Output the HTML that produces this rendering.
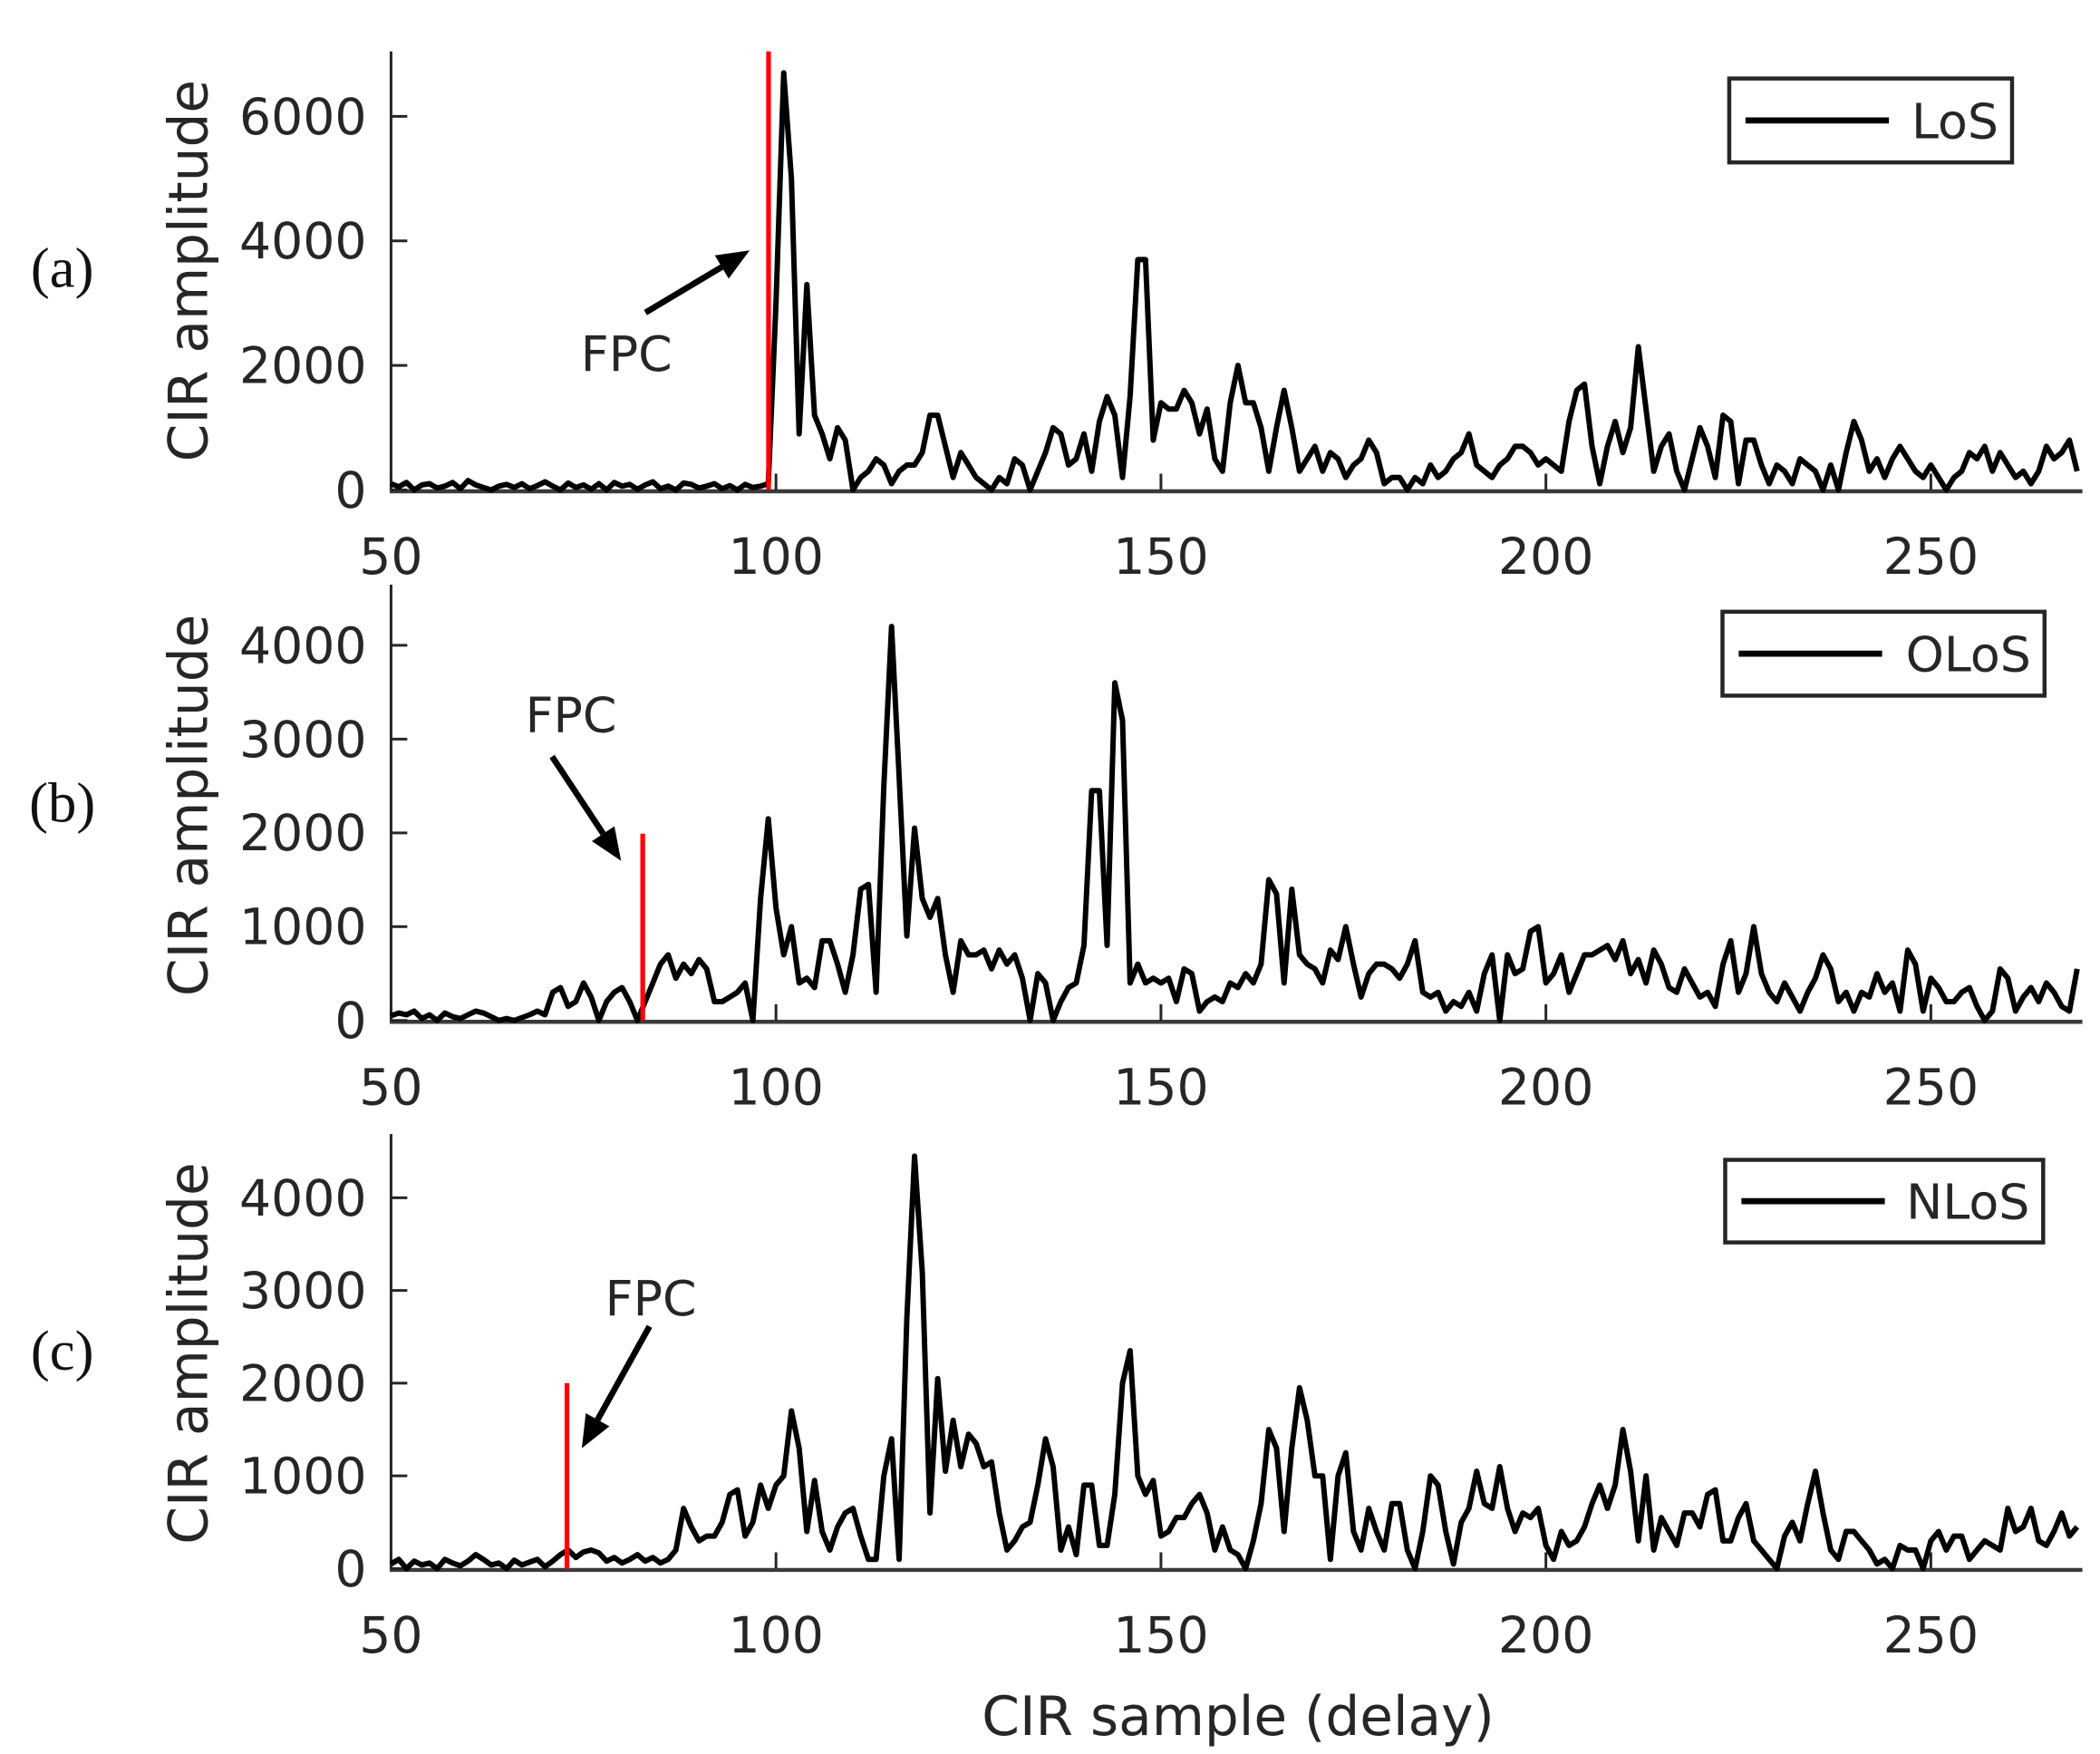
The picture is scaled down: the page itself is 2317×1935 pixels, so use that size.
<!DOCTYPE html>
<html><head><meta charset="utf-8"><style>
html,body{margin:0;padding:0;background:#fff;}
svg{display:block;}
text{font-family:"DejaVu Sans","Liberation Sans",sans-serif;fill:#262626;}
</style></head><body>
<svg id="s" width="2317" height="1935" viewBox="0 0 1552 1296" preserveAspectRatio="none" xmlns="http://www.w3.org/2000/svg">
<rect width="1552" height="1296" fill="#fff"/>
<g id="g"></g>
</svg>
<script>
var NS="http://www.w3.org/2000/svg",G=document.getElementById('g');
function el(t,a,txt){var e=document.createElementNS(NS,t);for(var k in a)e.setAttribute(k,a[k]);if(txt!==undefined)e.textContent=txt;G.appendChild(e);return e;}
function X(v){return 289+(v-50)*5.69;}
var noiseA=[100,50,120,0,80,100,30,60,120,20,150,80,40,0,60,90,40,100,20,70,130,60,0,110,40,80,10,100,0,120,60,90,10,80,130,20,60,0,110,90,30,60,100,20,70,0,90,40,60];
var A=noiseA.concat([100,3000,6700,5000,900,3300,1200,900,500,1000,800,0,200,300,500,400,100,300,400,400,600,1200,1200,700,200,600,400,200,100,0,200,100,500,400,0,300,600,1000,900,400,500,900,300,1100,1500,1200,200,1500,3700,3700,800,1400,1300,1300,1600,1400,900,1300,500,300,1400,2000,1400,1400,1000,300,1000,1600,1000,300,500,700,300,600,500,200,400,500,800,600,100,200,200,0,200,100,400,200,300,500,600,900,400,300,200,400,500,700,700,600,400,500,400,300,1100,1600,1700,700,100,700,1100,600,1000,2300,1300,300,700,900,300,0,500,1000,700,200,1200,1100,100,800,800,400,100,400,300,100,500,400,300,0,400,0,600,1100,800,300,500,200,500,700,500,300,200,400,200,0,200,300,600,500,700,300,600,400,200,300,100,300,700,500,600,800,300,600]);
var noiseB=[50,80,60,100,20,60,0,80,40,20,60,100,80,40,0,20,0,30,60,100,60];
var B=noiseB.concat([300,350,150,200,400,250,0,200,300,350,200,0,200,400,600,700,450,600,500,650,550,200,200,250,300,400,0,1300,2150,1200,700,1000,400,450,350,850,850,600,300,700,1400,1450,300,2500,4200,2600,900,2050,1300,1100,1300,700,300,850,700,700,750,550,750,600,700,450,0,500,400,0,200,350,400,800,2450,2450,800,3600,3200,400,600,400,450,400,450,200,550,500,100,200,250,200,400,350,500,400,600,1500,1350,400,1400,700,600,550,400,750,650,1000,600,250,500,600,600,550,450,600,850,300,250,300,100,200,150,300,100,500,700,0,700,500,550,950,1000,400,500,700,300,500,700,700,750,800,650,850,500,650,400,750,600,350,300,550,400,250,300,150,600,850,300,500,1000,500,300,200,400,250,100,300,450,700,550,200,300,100,300,250,500,300,400,100,750,600,100,450,350,200,200,300,350,150,0,100,550,450,100,250,350,200,400,300,150,100,550,450,150,300]);
var noiseC=[50,100,0,80,40,60,0,100,60,30,80,150,100,40,60,0,90,40,70,100,20,80,150,200,120,180,200,170,80,120,60,100,150,80,120,60,100];
var C=noiseC.concat([200,650,450,300,350,350,500,800,850,350,500,900,650,900,1000,1700,1300,400,950,400,200,450,600,650,350,100,100,1000,1400,100,2700,4450,3200,600,2050,1050,1600,1100,1450,1350,1100,1150,600,200,300,450,500,900,1400,1100,200,450,150,900,900,250,250,800,2000,2350,1000,800,950,350,400,550,550,700,800,600,200,450,200,150,0,300,700,1500,1300,400,1300,1950,1600,1000,1000,100,1000,1250,400,200,650,400,200,700,700,200,0,400,1000,900,400,50,500,650,1050,700,650,1100,650,400,600,550,650,250,100,400,250,300,450,700,900,650,900,1500,1050,300,1000,200,550,400,250,600,600,450,800,850,300,300,550,700,300,200,100,0,350,500,300,700,1050,600,200,100,400,400,300,200,50,100,0,250,200,200,0,300,400,200,350,350,100,200,300,250,200,650,400,450,650,300,250,400,600,350,450,600]);
function panel(data,y0,k,ytop,ticks,red,redTop,legend,lab,ylabY,fpc){
  el('line',{x1:289,y1:ytop,x2:289,y2:y0+1,stroke:'#262626','stroke-width':2});
  el('line',{x1:288,y1:y0+1,x2:1539,y2:y0+1,stroke:'#3a3a3a','stroke-width':3});
  ticks.forEach(function(t){var y=y0-t*k;el('line',{x1:289,y1:y,x2:301,y2:y,stroke:'#262626','stroke-width':2});
    el('text',{x:271,y:y+13,'text-anchor':'end','font-size':37},String(t));});
  [50,100,150,200,250].forEach(function(v){var x=X(v);el('line',{x1:x,y1:y0,x2:x,y2:y0-12,stroke:'#262626','stroke-width':2});
    el('text',{x:x,y:y0+62,'text-anchor':'middle','font-size':37},String(v));});
  var pts=[];for(var i=0;i<data.length;i++){var v=50+i;if(v>269.5)break;pts.push(X(v).toFixed(1)+','+(y0-data[i]*k).toFixed(1));}
  el('polyline',{points:pts.join(' '),fill:'none',stroke:'#000','stroke-width':4,'stroke-linejoin':'round'});
  el('line',{x1:red,y1:redTop,x2:red,y2:y0,stroke:'#ff0000','stroke-width':3.5});
  el('rect',{x:legend[0],y:legend[1],width:legend[2],height:legend[3],fill:'#fff',stroke:'#262626','stroke-width':3});
  var ly=legend[1]+legend[3]/2;
  el('line',{x1:legend[0]+12,y1:ly,x2:legend[0]+118,y2:ly,stroke:'#000','stroke-width':4.5});
  el('text',{x:legend[0]+legend[2]-10,y:ly+13,'text-anchor':'end','font-size':36},legend[4]);
  el('text',{x:0,y:0,'font-size':40,'text-anchor':'middle',transform:'translate(153,'+ylabY+') rotate(-90)'},'CIR amplitude');
  var t=el('text',{x:46,y:ylabY+12,'text-anchor':'middle','font-size':42},lab);t.style.fontFamily='"Liberation Serif",serif';t.style.fill='#111';
  el('text',{x:fpc[0],y:fpc[1],'text-anchor':'middle','font-size':36},'FPC');
  var x1=fpc[2],y1=fpc[3],x2=fpc[4],y2=fpc[5];
  var dx=x2-x1,dy=y2-y1,L=Math.sqrt(dx*dx+dy*dy),ux=dx/L,uy=dy/L,h=24,w=10;
  var bx=x2-ux*h,by=y2-uy*h;
  el('line',{x1:x1,y1:y1,x2:bx,y2:by,stroke:'#000','stroke-width':4.5});
  el('polygon',{points:x2+','+y2+' '+(bx-uy*w)+','+(by+ux*w)+' '+(bx+uy*w)+','+(by-ux*w),fill:'#000'});
}
panel(A,362,0.046,38,[0,2000,4000,6000],568,38,[1278,58,209,62,'LoS'],'(a)',200,[463,274,477,231,554,185]);
panel(B,754,0.0693,432,[0,1000,2000,3000,4000],475,616,[1273,452,238,62,'OLoS'],'(b)',595,[422,541,408,559,459,636]);
panel(C,1159,0.0685,838,[0,1000,2000,3000,4000],419,1022,[1275,857,235,61,'NLoS'],'(c)',1000,[481,972,480,980,430,1070]);
el('text',{x:915,y:1282,'text-anchor':'middle','font-size':40},'CIR sample (delay)');
</script>
</body></html>
